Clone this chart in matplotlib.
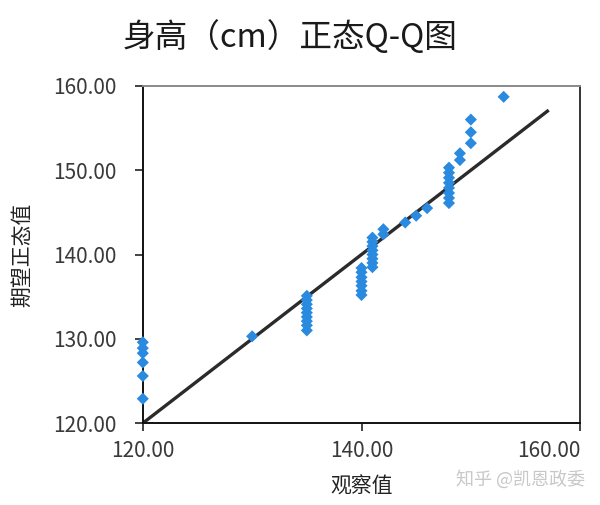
import matplotlib.pyplot as plt

plt.rcParams['font.family'] = ['Noto Sans CJK SC', 'DejaVu Sans']

observed = [120, 120, 120, 120, 120, 120,
            130,
            135, 135, 135, 135, 135, 135, 135, 135, 135,
            140, 140, 140, 140, 140, 140, 140,
            141, 141, 141, 141, 141, 141, 141, 141,
            142, 142,
            144, 145, 146,
            148, 148, 148, 148, 148, 148, 148, 148,
            149, 149,
            150, 150, 150,
            153]
expected = [129.6, 128.9, 128.3, 127.2, 125.6, 122.9,
            130.3,
            135.1, 134.6, 134.1, 133.6, 133.1, 132.6, 132.1, 131.6, 131.0,
            138.4, 137.9, 137.3, 136.8, 136.3, 135.7, 135.2,
            142.0, 141.5, 141.0, 140.5, 140.0, 139.5, 139.0, 138.5,
            143.0, 142.4,
            143.8, 144.6, 145.5,
            150.3, 149.7, 149.1, 148.5, 147.9, 147.3, 146.7, 146.1,
            152.0, 151.2,
            156.0, 154.5, 153.2,
            158.7]
line_range = [120, 157]
x_ticks = [120, 140, 160]
y_ticks = [120, 130, 140, 150, 160]

fig = plt.figure(figsize=(6, 5.05), dpi=100)
ax = fig.add_axes([0.238, 0.162, 0.729, 0.668])

ax.plot(line_range, line_range, color='#2b2b2b', lw=2.4, zorder=2)
ax.scatter(observed, expected, marker='D', s=38, color='#2a8ae0',
           edgecolors='none', zorder=3, clip_on=False)

ax.set_xlim(120, 160)
ax.set_ylim(120, 160)
ax.set_xticks(x_ticks)
ax.set_yticks(y_ticks)
ax.set_xticklabels([f'{v:.2f}' for v in x_ticks])
ax.set_yticklabels([f'{v:.2f}' for v in y_ticks])
ax.tick_params(direction='out', length=6, width=1.2, labelsize=15,
               labelcolor='#3a3a3a', color='#222222')
ax.tick_params(axis='y', pad=13)
ax.tick_params(axis='x', pad=6)
# last x label sits inside the plot width, as in the source
ax.get_xticklabels()[-1].set_horizontalalignment('right')

ax.spines['left'].set_color('#111111')
ax.spines['bottom'].set_color('#111111')
ax.spines['right'].set_color('#333333')
ax.spines['top'].set_color('#8a8a8a')
for s in ax.spines.values():
    s.set_linewidth(1.4)

fig.text(0.483, 0.927, '身高（cm）正态Q-Q图', fontsize=23.5, color='#1a1a1a',
         ha='center', va='center')
ax.set_xlabel('观察值', fontsize=15, color='#222222', labelpad=10)
ax.set_ylabel('期望正态值', fontsize=15, color='#222222', labelpad=14)

fig.text(0.76, 0.04, '知乎 @凯恩政委', fontsize=13, color='#c8c8c8')

fig.savefig('out.png', dpi=100)
